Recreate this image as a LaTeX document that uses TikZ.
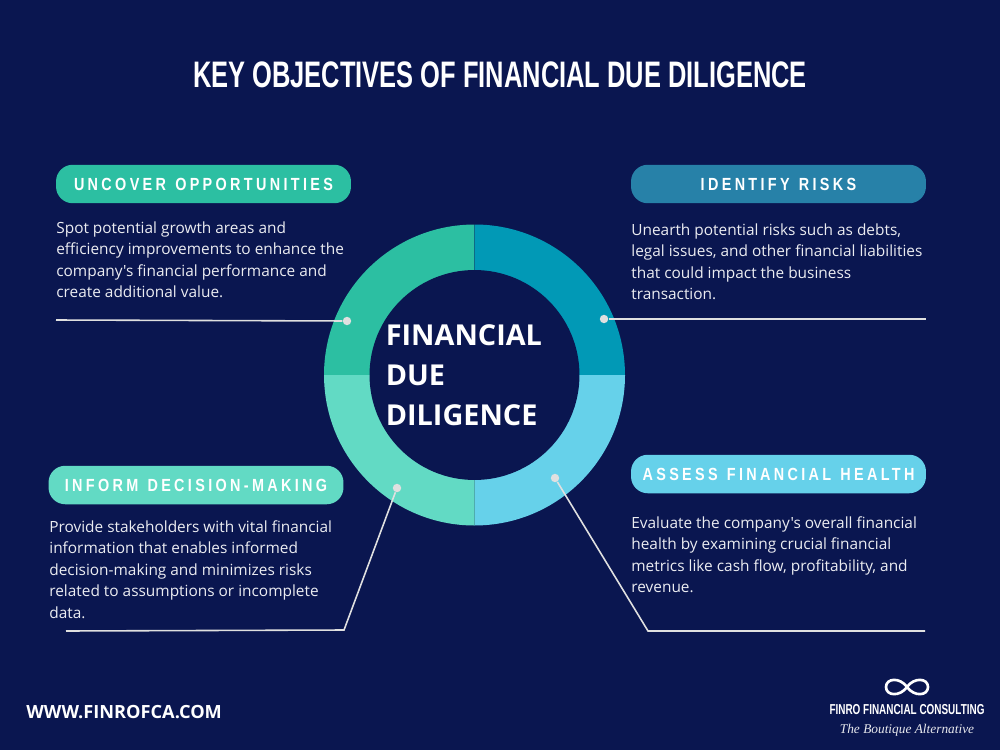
\documentclass[tikz,border=0pt]{standalone}
\usepackage{fontspec}
\setmainfont[Ligatures=TeXOff]{Open Sans}
\newfontfamily\titlefont[FakeStretch=0.69]{Liberation Sans}
\newfontfamily\pillfont[FakeStretch=0.82,LetterSpace=19,WordSpace=1.25]{Liberation Sans}
\newfontfamily\tagfont{Liberation Serif}
\definecolor{colBack}{HTML}{0A1650}
\definecolor{colGreen}{HTML}{2CBFA2}
\definecolor{colTeal}{HTML}{0199B6}
\definecolor{colMint}{HTML}{62DAC4}
\definecolor{colSky}{HTML}{66D1EA}
\definecolor{colBlue}{HTML}{2781A8}
\colorlet{colLine}{white!88!black}
\tikzstyle{pill}=[rounded corners=9.5pt, minimum width=5.9cm, minimum height=0.77cm, inner sep=0pt, text=white, font=\pillfont\bfseries\fontsize{10}{11}\selectfont]
\tikzstyle{body}=[anchor=north west, inner sep=0pt, align=left, text=white!92!colBack, font=\fontsize{8.77}{12.25}\selectfont]
\tikzstyle{dotmark}=[circle, fill=colLine, inner sep=0pt, minimum size=4.8pt]
\tikzstyle{leader}=[line width=0.9pt, colLine]

\begin{document}
\begin{tikzpicture}[x=0.02cm, y=-0.02cm]
			\fill[colBack] (0,0) rectangle (1000,750);
			\useasboundingbox (0,0) rectangle (1000,750);
			\node[text=white, inner sep=0pt, font=\titlefont\bfseries\fontsize{21}{24}\selectfont] (title) at (500,75) {KEY OBJECTIVES OF FINANCIAL DUE DILIGENCE};
			% ring
			\coordinate (hub) at (474.5,375);
			\fill[colGreen] (hub) -- (324,375) arc[start angle=180, end angle=90, radius=3.01cm] -- cycle;
			\fill[colTeal] (hub) -- (474.5,224.5) arc[start angle=90, end angle=0, radius=3.01cm] -- cycle;
			\fill[colSky] (hub) -- (625,375) arc[start angle=0, end angle=-90, radius=3.01cm] -- cycle;
			\fill[colMint] (hub) -- (474.5,525.5) arc[start angle=-90, end angle=-180, radius=3.01cm] -- cycle;
			\fill[colBack] (hub) circle[radius=2.1cm];
			\node[anchor=west, inner sep=0pt, align=left, text=white, font=\bfseries\fontsize{16.4}{22.8}\selectfont] (centre) at (385.5,375) {FINANCIAL\\DUE\\DILIGENCE};
			% headings
			\node[pill, fill=colGreen] (uncover) at (203.5,184) {UNCOVER OPPORTUNITIES};
			\node[pill, fill=colBlue] (identify) at (778.5,184) {IDENTIFY RISKS};
			\node[pill, fill=colMint] (inform) at (196,485) {INFORM DECISION-MAKING};
			\node[pill, fill=colSky] (assess) at (778.5,474) {ASSESS FINANCIAL HEALTH};
			% texts
			\node[body] (uncovertext) at (56,221) {Spot potential growth areas and\\efficiency improvements to enhance the\\company's financial performance and\\create additional value.};
			\node[body] (identifytext) at (631,223) {Unearth potential risks such as debts,\\legal issues, and other financial liabilities\\that could impact the business\\transaction.};
			\node[body] (informtext) at (49,520) {Provide stakeholders with vital financial\\information that enables informed\\decision-making and minimizes risks\\related to assumptions or incomplete\\data.};
			\node[body] (assesstext) at (631,516) {Evaluate the company's overall financial\\health by examining crucial financial\\metrics like cash flow, profitability, and\\revenue.};
			% leaders
			\node[dotmark] (dotA) at (347,321) {};
			\node[dotmark] (dotB) at (604,319) {};
			\node[dotmark] (dotC) at (397,488) {};
			\node[dotmark] (dotD) at (555,478) {};
			\coordinate (endA) at (56,320);
			\coordinate (endB) at (926,319);
			\coordinate (endC) at (66,631);
			\coordinate (bendC) at (344,630);
			\coordinate (endD) at (925,631);
			\coordinate (bendD) at (648,631);
			\draw[leader] (endA) -- (dotA);
			\draw[leader] (dotB) -- (endB);
			\draw[leader] (endC) -- (bendC) -- (dotC);
			\draw[leader] (endD) -- (bendD) -- (dotD);
			% footer
			\node[anchor=west, inner sep=0pt, text=white, font=\bfseries\fontsize{10.35}{12}\selectfont] (site) at (26,712) {WWW.FINROFCA.COM};
			\draw[white, line width=1.5pt] (907,687) .. controls (900,677) and (886,678) .. (886,687) .. controls (886,696) and (900,697) .. (907,687) .. controls (914,677) and (928,678) .. (928,687) .. controls (928,696) and (914,697) .. (907,687) -- cycle;
			\node[inner sep=0pt, text=white, font=\titlefont\bfseries\fontsize{8.2}{10}\selectfont] (firm) at (907,710) {FINRO FINANCIAL CONSULTING};
			\node[inner sep=0pt, text=white!90!colBack, font=\tagfont\itshape\fontsize{7.6}{9}\selectfont] (tagline) at (907,730) {The Boutique Alternative};
		\end{tikzpicture}
\end{document}
